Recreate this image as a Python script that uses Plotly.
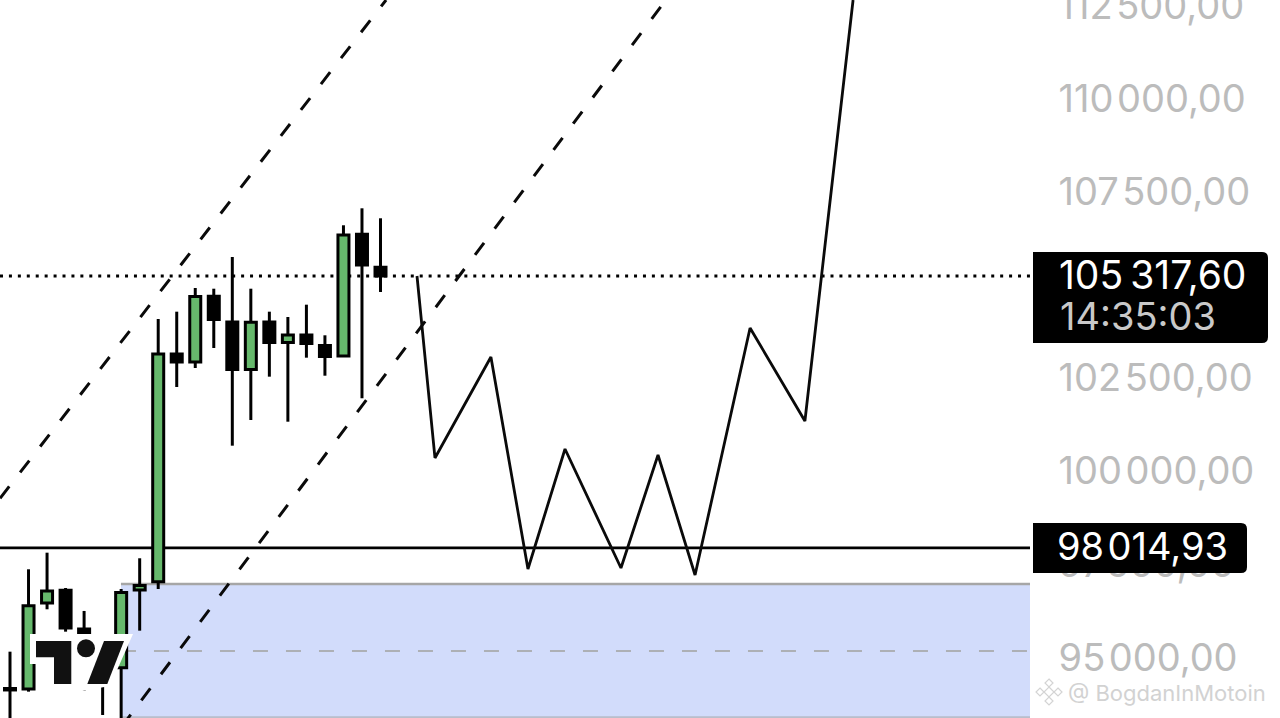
import plotly.graph_objects as go

# ---- data ----
opens  = [94242, 94226, 96535, 96881, 95842, 95383, 94798, 96886, 97107, 103226, 103006, 104775, 104085, 102807, 104085, 103532, 103736, 103451, 103167, 106440, 105554]
highs  = [95230, 97442, 97888, 96940, 96323, 95544, 96913, 97738, 104163, 104359, 104995, 104976, 105828, 104976, 104359, 104217, 104547, 103725, 106679, 107135, 106867]
lows   = [93262, 94156, 96368, 95767, 94183, 93530, 93262, 95794, 96913, 102337, 102847, 103384, 100761, 101451, 102614, 101405, 103124, 102640, 103167, 102034, 104888]
closes = [94202, 96460, 96862, 95863, 95544, 94819, 96819, 97007, 103226, 103006, 104767, 104149, 102807, 104077, 103532, 103736, 103505, 103156, 106421, 105610, 105317.6]

path_x = [21.97, 22.94, 25.96, 27.96, 29.96, 32.98, 34.98, 36.98, 39.95, 42.91, 45.51]
path_y = [105317, 100431, 103143, 97450, 100672, 97477, 100511, 97289, 103921, 101424, 112728]

channel_upper_x = [-1.619, 20.3]
channel_upper_y = [98653, 112728]
channel_lower_x = [6.03, 35.2]
channel_lower_y = [93216, 112594]

last_price = 105317.60
level_price = 98014.93
box_top = 97048
box_mid = 95249
box_left = 5.99

SP = "\u200a"
tick_vals = [112500, 110000, 107500, 102500, 100000, 97500, 95000]
tick_text = [f"112{SP}500,00", f"110{SP}000,00", f"107{SP}500,00", f"102{SP}500,00",
             f"100{SP}000,00", f"97{SP}500,00", f"95{SP}000,00"]

X_RANGE = [-0.54, 55.06]
Y_RANGE = [93449, 112728]
W, H, PLOT_W = 1280, 718, 1030
FONT = "Inter, Liberation Sans, sans-serif"
GREEN = "#66b96c"
INK = "#0a0a0a"


def px(x):
    return x / PLOT_W


def py(y):
    return 1 - y / H


def poly(points):
    return "M" + " L".join(f"{px(a):.5f},{py(b):.5f}" for a, b in points) + " Z"


idx = list(range(len(opens)))
body_base = [min(o, c) for o, c in zip(opens, closes)]
body_h = [abs(o - c) for o, c in zip(opens, closes)]
body_col = [GREEN if c > o else "#000000" for o, c in zip(opens, closes)]

wick_x, wick_y = [], []
for i, o, h, l, c in zip(idx, opens, highs, lows, closes):
    top, bot = max(o, c), min(o, c)
    wick_x += [i, i, None, i, i, None]
    wick_y += [h, top, None, bot, l, None]

fig = go.Figure()
fig.add_trace(go.Bar(x=idx, y=body_h, base=body_base, width=0.594,
                     marker=dict(color=body_col, line=dict(color="#000000", width=3)),
                     hoverinfo="skip", showlegend=False))
fig.add_trace(go.Scatter(x=wick_x, y=wick_y, mode="lines",
                         line=dict(color="#000000", width=3),
                         hoverinfo="skip", showlegend=False))
fig.add_trace(go.Scatter(x=channel_upper_x, y=channel_upper_y, mode="lines",
                         line=dict(color=INK, width=3, dash="15px,17.75px"),
                         hoverinfo="skip", showlegend=False))
fig.add_trace(go.Scatter(x=channel_lower_x, y=channel_lower_y, mode="lines",
                         line=dict(color=INK, width=3, dash="15px,17.75px"),
                         hoverinfo="skip", showlegend=False))
fig.add_trace(go.Scatter(x=path_x, y=path_y, mode="lines",
                         line=dict(color=INK, width=2.8),
                         hoverinfo="skip", showlegend=False))

shapes = [
    dict(type="rect", layer="below", x0=box_left, x1=X_RANGE[1], y0=Y_RANGE[0], y1=box_top,
         fillcolor="#d2dcfb", line=dict(width=0)),
    dict(type="line", layer="below", x0=box_left, x1=X_RANGE[1], y0=box_top, y1=box_top,
         line=dict(color="#a6a6a6", width=2.5)),
    dict(type="line", layer="below", x0=box_left, x1=X_RANGE[1], y0=Y_RANGE[0] + 25, y1=Y_RANGE[0] + 25,
         line=dict(color="#a6a6a6", width=1)),
    dict(type="line", layer="below", x0=box_left, x1=X_RANGE[1], y0=box_mid, y1=box_mid,
         line=dict(color="#adb0b5", width=2, dash="15px,18px")),
    dict(type="line", layer="below", x0=X_RANGE[0], x1=X_RANGE[1], y0=level_price, y1=level_price,
         line=dict(color="#000000", width=2.8)),
    dict(type="line", layer="below", x0=X_RANGE[0], x1=X_RANGE[1], y0=last_price, y1=last_price,
         line=dict(color="#000000", width=3, dash="3px,5.93px")),
]


def rounded(x0, y0, x1, y1, r):
    pts = f"M{px(x0):.5f},{py(y0):.5f} L{px(x1 - r):.5f},{py(y0):.5f} "
    pts += f"Q{px(x1):.5f},{py(y0):.5f} {px(x1):.5f},{py(y0 + r):.5f} "
    pts += f"L{px(x1):.5f},{py(y1 - r):.5f} Q{px(x1):.5f},{py(y1):.5f} {px(x1 - r):.5f},{py(y1):.5f} "
    pts += f"L{px(x0):.5f},{py(y1):.5f} Z"
    return pts


for rect in [(1033, 252, 1268, 343), (1033, 523, 1247, 573)]:
    shapes.append(dict(type="path", xref="paper", yref="paper", path=rounded(*rect, 6),
                       fillcolor="#000000", line=dict(width=0), layer="above"))

# TradingView mark
for pts, col in [
    ([(30, 634), (133, 634), (110, 686), (82, 691), (53, 686), (53, 664), (30, 664)], "#ffffff"),
    ([(36, 641), (71.3, 641), (71.3, 684), (54, 684), (54, 657.3), (36, 657.3)], "#111111"),
    ([(104, 641), (124, 641), (107.3, 684), (87.3, 684)], "#111111"),
]:
    shapes.append(dict(type="path", xref="paper", yref="paper", path=poly(pts),
                       fillcolor=col, line=dict(width=0), layer="above"))
shapes.append(dict(type="circle", xref="paper", yref="paper", layer="above",
                   x0=px(77), x1=px(95), y0=py(657.3), y1=py(639.3),
                   fillcolor="#111111", line=dict(width=0)))

# exchange watermark icon
for cx, cy, r in [(1049, 692, 5), (1049, 683, 4), (1049, 701, 4), (1040, 692, 4), (1058, 692, 4)]:
    shapes.append(dict(type="path", xref="paper", yref="paper", layer="above",
                       path=poly([(cx, cy - r), (cx + r, cy), (cx, cy + r), (cx - r, cy)]),
                       fillcolor="#ffffff", line=dict(color="#d4d4d4", width=1.2)))

LABEL = 38
annotations = [
    dict(text="105\u2009317,60", x=px(1057), y=py(274), font=dict(family=FONT, size=39, color="#ffffff")),
    dict(text="14:35:03", x=px(1058), y=py(316), font=dict(family=FONT, size=LABEL, color="#c9c9c9")),
    dict(text=f"98{SP}014,93", x=px(1055), y=py(546), font=dict(family=FONT, size=LABEL, color="#ffffff")),
    dict(text="@ BogdanInMotoin", x=px(1066), y=py(693), font=dict(family=FONT, size=22, color="#d2d2d2")),
]
for a in annotations:
    a.update(xref="paper", yref="paper", xanchor="left", yanchor="middle", showarrow=False)

fig.update_layout(
    width=W, height=H, margin=dict(l=0, r=W - PLOT_W, t=0, b=0, autoexpand=False),
    paper_bgcolor="#ffffff", plot_bgcolor="#ffffff",
    showlegend=False, barmode="overlay", shapes=shapes, annotations=annotations,
    xaxis=dict(range=X_RANGE, visible=False, fixedrange=True),
    yaxis=dict(range=Y_RANGE, side="right", showgrid=False, zeroline=False, showline=False,
               tickmode="array", tickvals=tick_vals, ticktext=tick_text,
               ticks="outside", ticklen=20, tickcolor="rgba(0,0,0,0)", tickwidth=1,
               ticklabeloverflow="allow", ticklabelshift=-3,
               tickfont=dict(family=FONT, size=LABEL, color="#bcbcbc"), fixedrange=True),
)

fig.write_html("out.html", config=dict(displayModeBar=False),
               post_script="document.body.style.margin='0';document.body.style.overflow='hidden';")
